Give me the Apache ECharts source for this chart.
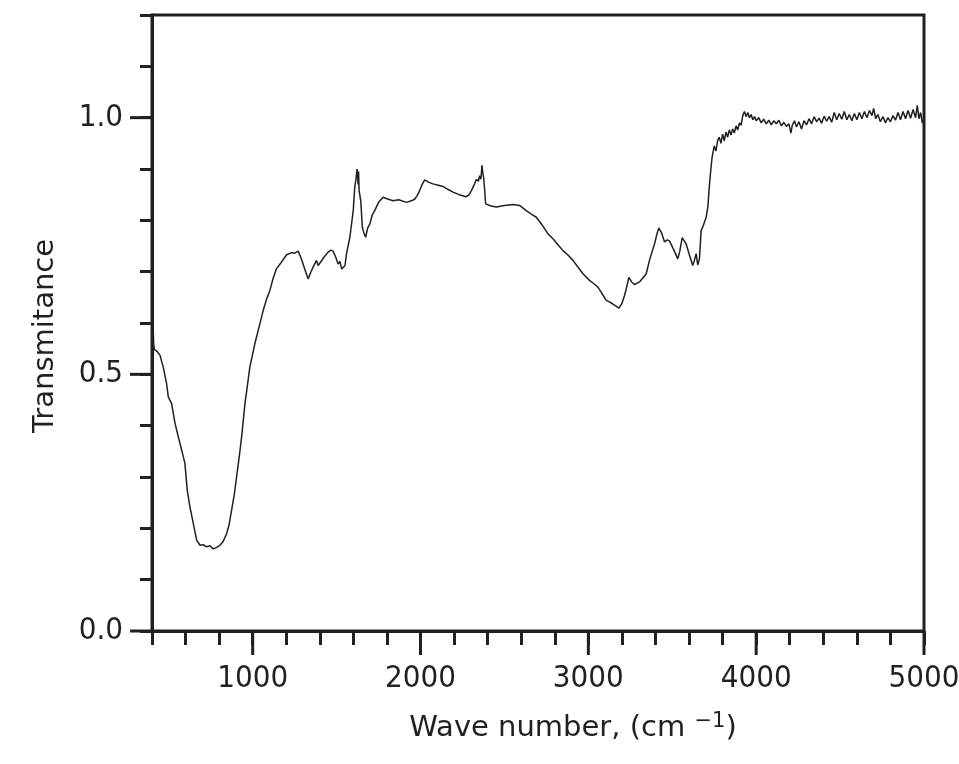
<!DOCTYPE html>
<html>
<head>
<meta charset="utf-8">
<script src="https://cdn.jsdelivr.net/npm/echarts@6/dist/echarts.min.js"></script>
<style>
html, body { margin: 0; padding: 0; background: #fff; }
#chart { width: 959px; height: 764px; }
</style>
</head>
<body>
<div id="chart"></div>
<script>
// IR 透过率曲线
var waveNumber = [
	402, 406, 410, 414, 430, 448, 467, 487, 497, 517, 537, 557, 577, 596, 610, 626, 642, 666, 686, 705,
	726, 745, 765, 785, 805, 825, 845, 860, 874, 890, 904, 920, 934, 954, 983, 1013, 1040, 1063, 1083, 1102,
	1120, 1142, 1170, 1202, 1232, 1250, 1271, 1290, 1310, 1330, 1345, 1360, 1380, 1390, 1400, 1425, 1449, 1465, 1479, 1495,
	1509, 1520, 1530, 1539, 1550, 1559, 1579, 1599, 1608, 1615, 1622, 1628, 1631, 1634, 1644, 1653, 1663, 1673, 1685, 1698,
	1712, 1727, 1750, 1777, 1800, 1836, 1870, 1916, 1945, 1965, 1980, 1995, 2010, 2025, 2050, 2074, 2100, 2134, 2165, 2194,
	2230, 2273, 2290, 2303, 2318, 2333, 2345, 2352, 2360, 2366, 2372, 2376, 2382, 2388, 2420, 2452, 2500, 2551, 2590, 2630,
	2660, 2690, 2720, 2759, 2789, 2820, 2849, 2880, 2908, 2940, 2968, 3007, 3035, 3057, 3080, 3107, 3125, 3146, 3165, 3182,
	3200, 3216, 3230, 3241, 3258, 3275, 3305, 3345, 3364, 3394, 3410, 3420, 3437, 3454, 3470, 3483, 3510, 3533, 3545, 3559,
	3572, 3583, 3600, 3622, 3632, 3642, 3652, 3662, 3672, 3685, 3702, 3712, 3722, 3730, 3737,
	3740, 3750, 3760, 3770, 3780, 3790, 3800, 3810, 3820, 3830, 3840, 3850, 3860, 3870, 3880, 3890, 3900, 3910, 3920, 3930,
	3940, 3950, 3960, 3970, 3980, 3990, 4000, 4015, 4030, 4045, 4060, 4075, 4090, 4105, 4120, 4135, 4150, 4165, 4180, 4195,
	4207, 4215, 4228, 4240, 4255, 4270, 4285, 4300, 4315, 4330, 4345, 4360, 4375, 4390, 4405, 4420, 4435, 4450, 4465, 4480,
	4495, 4510, 4525, 4540, 4555, 4570, 4585, 4600, 4615, 4630, 4645, 4660, 4675, 4690, 4700, 4712, 4725, 4740, 4755, 4770,
	4785, 4800, 4815, 4830, 4845, 4860, 4875, 4890, 4905, 4920, 4935, 4950, 4960, 4970, 4980, 4990, 5000
]
var transmittance = [
	0.625, 0.600, 0.560, 0.548, 0.545, 0.537, 0.514, 0.482, 0.456, 0.443, 0.405, 0.378, 0.352, 0.327, 0.274, 0.242, 0.216, 0.177, 0.167, 0.168,
	0.164, 0.166, 0.160, 0.163, 0.167, 0.175, 0.190, 0.208, 0.235, 0.265, 0.300, 0.340, 0.378, 0.443, 0.514, 0.560, 0.595, 0.625, 0.647, 0.663,
	0.685, 0.706, 0.718, 0.733, 0.737, 0.736, 0.740, 0.725, 0.705, 0.686, 0.698, 0.709, 0.722, 0.712, 0.709, 0.728, 0.738, 0.742, 0.740, 0.728,
	0.715, 0.720, 0.705, 0.702, 0.712, 0.735, 0.767, 0.819, 0.864, 0.880, 0.900, 0.870, 0.895, 0.858, 0.838, 0.787, 0.775, 0.767, 0.785, 0.793,
	0.810, 0.819, 0.835, 0.845, 0.842, 0.838, 0.840, 0.835, 0.838, 0.841, 0.848, 0.858, 0.870, 0.879, 0.874, 0.871, 0.869, 0.866, 0.860, 0.855,
	0.850, 0.846, 0.850, 0.858, 0.868, 0.880, 0.876, 0.887, 0.880, 0.907, 0.890, 0.884, 0.860, 0.832, 0.828, 0.826, 0.829, 0.831, 0.829, 0.819,
	0.812, 0.806, 0.793, 0.774, 0.764, 0.752, 0.741, 0.732, 0.722, 0.708, 0.696, 0.683, 0.676, 0.670, 0.658, 0.644, 0.641, 0.637, 0.633, 0.629,
	0.638, 0.654, 0.672, 0.689, 0.680, 0.675, 0.680, 0.696, 0.722, 0.754, 0.775, 0.785, 0.775, 0.758, 0.762, 0.760, 0.742, 0.725, 0.740, 0.766,
	0.760, 0.754, 0.735, 0.712, 0.722, 0.735, 0.713, 0.725, 0.780, 0.790, 0.806, 0.826, 0.871, 0.900, 0.922,
	0.925, 0.945, 0.935, 0.955, 0.962, 0.950, 0.968, 0.955, 0.972, 0.962, 0.976, 0.966, 0.978, 0.970, 0.984, 0.976, 0.990, 0.985, 1.004, 1.012,
	1.002, 1.010, 1.000, 1.006, 0.996, 1.002, 0.994, 1.000, 0.990, 0.997, 0.988, 0.995, 0.986, 0.994, 0.988, 0.995, 0.984, 0.991, 0.983, 0.988,
	0.970, 0.985, 0.994, 0.982, 0.992, 0.978, 0.994, 0.986, 0.998, 0.988, 1.002, 0.992, 0.999, 0.989, 1.003, 0.993, 1.002, 0.991, 1.010, 0.996,
	1.008, 0.997, 1.012, 0.996, 1.006, 0.994, 1.008, 0.996, 1.010, 0.998, 1.012, 1.000, 1.014, 1.004, 1.018, 0.998, 1.006, 0.992, 1.002, 0.990,
	1.000, 0.992, 1.004, 0.995, 1.010, 0.996, 1.012, 0.998, 1.014, 0.999, 1.016, 1.000, 1.024, 0.998, 1.010, 0.990, 0.996
]
var xMajorTicks = [1000, 2000, 3000, 4000, 5000]
var yMajorTicks = [0, 0.5, 1.0]
var yMinorTicks = [0, 0.1, 0.2, 0.3, 0.4, 0.5, 0.6, 0.7, 0.8, 0.9, 1.0, 1.1, 1.2]

var ink = '#231f20'
var labelFont = 'DejaVu Sans Condensed, DejaVu Sans, sans-serif'
var nameFont = 'DejaVu Sans, sans-serif'

var points = waveNumber.map(function (w, i) {
	return [w, transmittance[i]]
})

var chart = echarts.init(document.getElementById('chart'))

function report(step, e) {
	var box = document.createElement('div')
	box.style.cssText = 'position:absolute;left:170px;top:420px;color:red;font:12px sans-serif'
	box.textContent = step + ': ' + (e && e.message)
	document.body.appendChild(box)
}

// 1) 网格 + 坐标轴 + 曲线
try {
	chart.setOption({
		animation: false,
		grid: {
			left: 152,
			right: 35,
			top: 15,
			bottom: 133,
			outerBoundsMode: 'none',
			show: true,
			borderColor: ink,
			borderWidth: 3
		},
		xAxis: {
			type: 'value',
			min: 400,
			max: 5000,
			interval: 200,
			axisLine: { lineStyle: { color: ink, width: 3 } },
			axisTick: { length: 14, lineStyle: { color: ink, width: 3 } },
			axisLabel: {
				customValues: xMajorTicks,
				color: ink,
				fontFamily: labelFont,
				fontSize: 31,
				margin: 32,
				formatter: function (v) { return String(v) }
			},
			splitLine: { show: false }
		},
		yAxis: {
			type: 'value',
			min: 0,
			max: 1.2,
			axisLine: { lineStyle: { color: ink, width: 3 } },
			axisTick: { customValues: yMinorTicks, length: 12, lineStyle: { color: ink, width: 3 } },
			axisLabel: {
				customValues: yMajorTicks,
				color: ink,
				fontFamily: labelFont,
				fontSize: 31,
				margin: 29,
				formatter: function (v) { return v.toFixed(1) }
			},
			splitLine: { show: false }
		},
		series: [
			{
				type: 'line',
				data: points,
				symbol: 'none',
				lineStyle: { color: ink, width: 1.5 }
			}
		]
	})
} catch (e) { report('axes', e) }

// 2) 大刻度：用坐标轴换算出像素位置再画
try {
	var x0 = chart.convertToPixel({ xAxisIndex: 0 }, 400)
	var y0 = chart.convertToPixel({ yAxisIndex: 0 }, 0)
	var majorTicks = []
	xMajorTicks.forEach(function (v) {
		var px = chart.convertToPixel({ xAxisIndex: 0 }, v)
		majorTicks.push({
			type: 'line',
			z: 100,
			shape: { x1: px, y1: y0, x2: px, y2: y0 + 24 },
			style: { stroke: ink, lineWidth: 3 }
		})
	})
	yMajorTicks.forEach(function (v) {
		var py = chart.convertToPixel({ yAxisIndex: 0 }, v)
		majorTicks.push({
			type: 'line',
			z: 100,
			shape: { x1: x0 - 22, y1: py, x2: x0, y2: py },
			style: { stroke: ink, lineWidth: 3 }
		})
	})
	chart.setOption({ graphic: majorTicks })
} catch (e) { report('ticks', e) }

// 3) 坐标轴标题
try {
	chart.setOption({
		xAxis: {
			name: '{n|Wave number, (cm }{s|\u22121}{n|)}',
			nameLocation: 'middle',
			nameGap: 80,
			nameTextStyle: {
				padding: [0, 0, 0, 70],
				rich: {
					n: { fontFamily: nameFont, fontSize: 29, color: ink },
					s: { fontFamily: nameFont, fontSize: 21, color: ink, verticalAlign: 'top', padding: [0, 0, 14, 0] }
				}
			}
		},
		yAxis: {
			name: 'Transmitance',
			nameLocation: 'middle',
			nameGap: 92,
			nameTextStyle: { fontFamily: nameFont, fontSize: 29, color: ink, padding: [0, 26, 0, 0] }
		}
	})
} catch (e) { report('names', e) }
</script>
</body>
</html>
